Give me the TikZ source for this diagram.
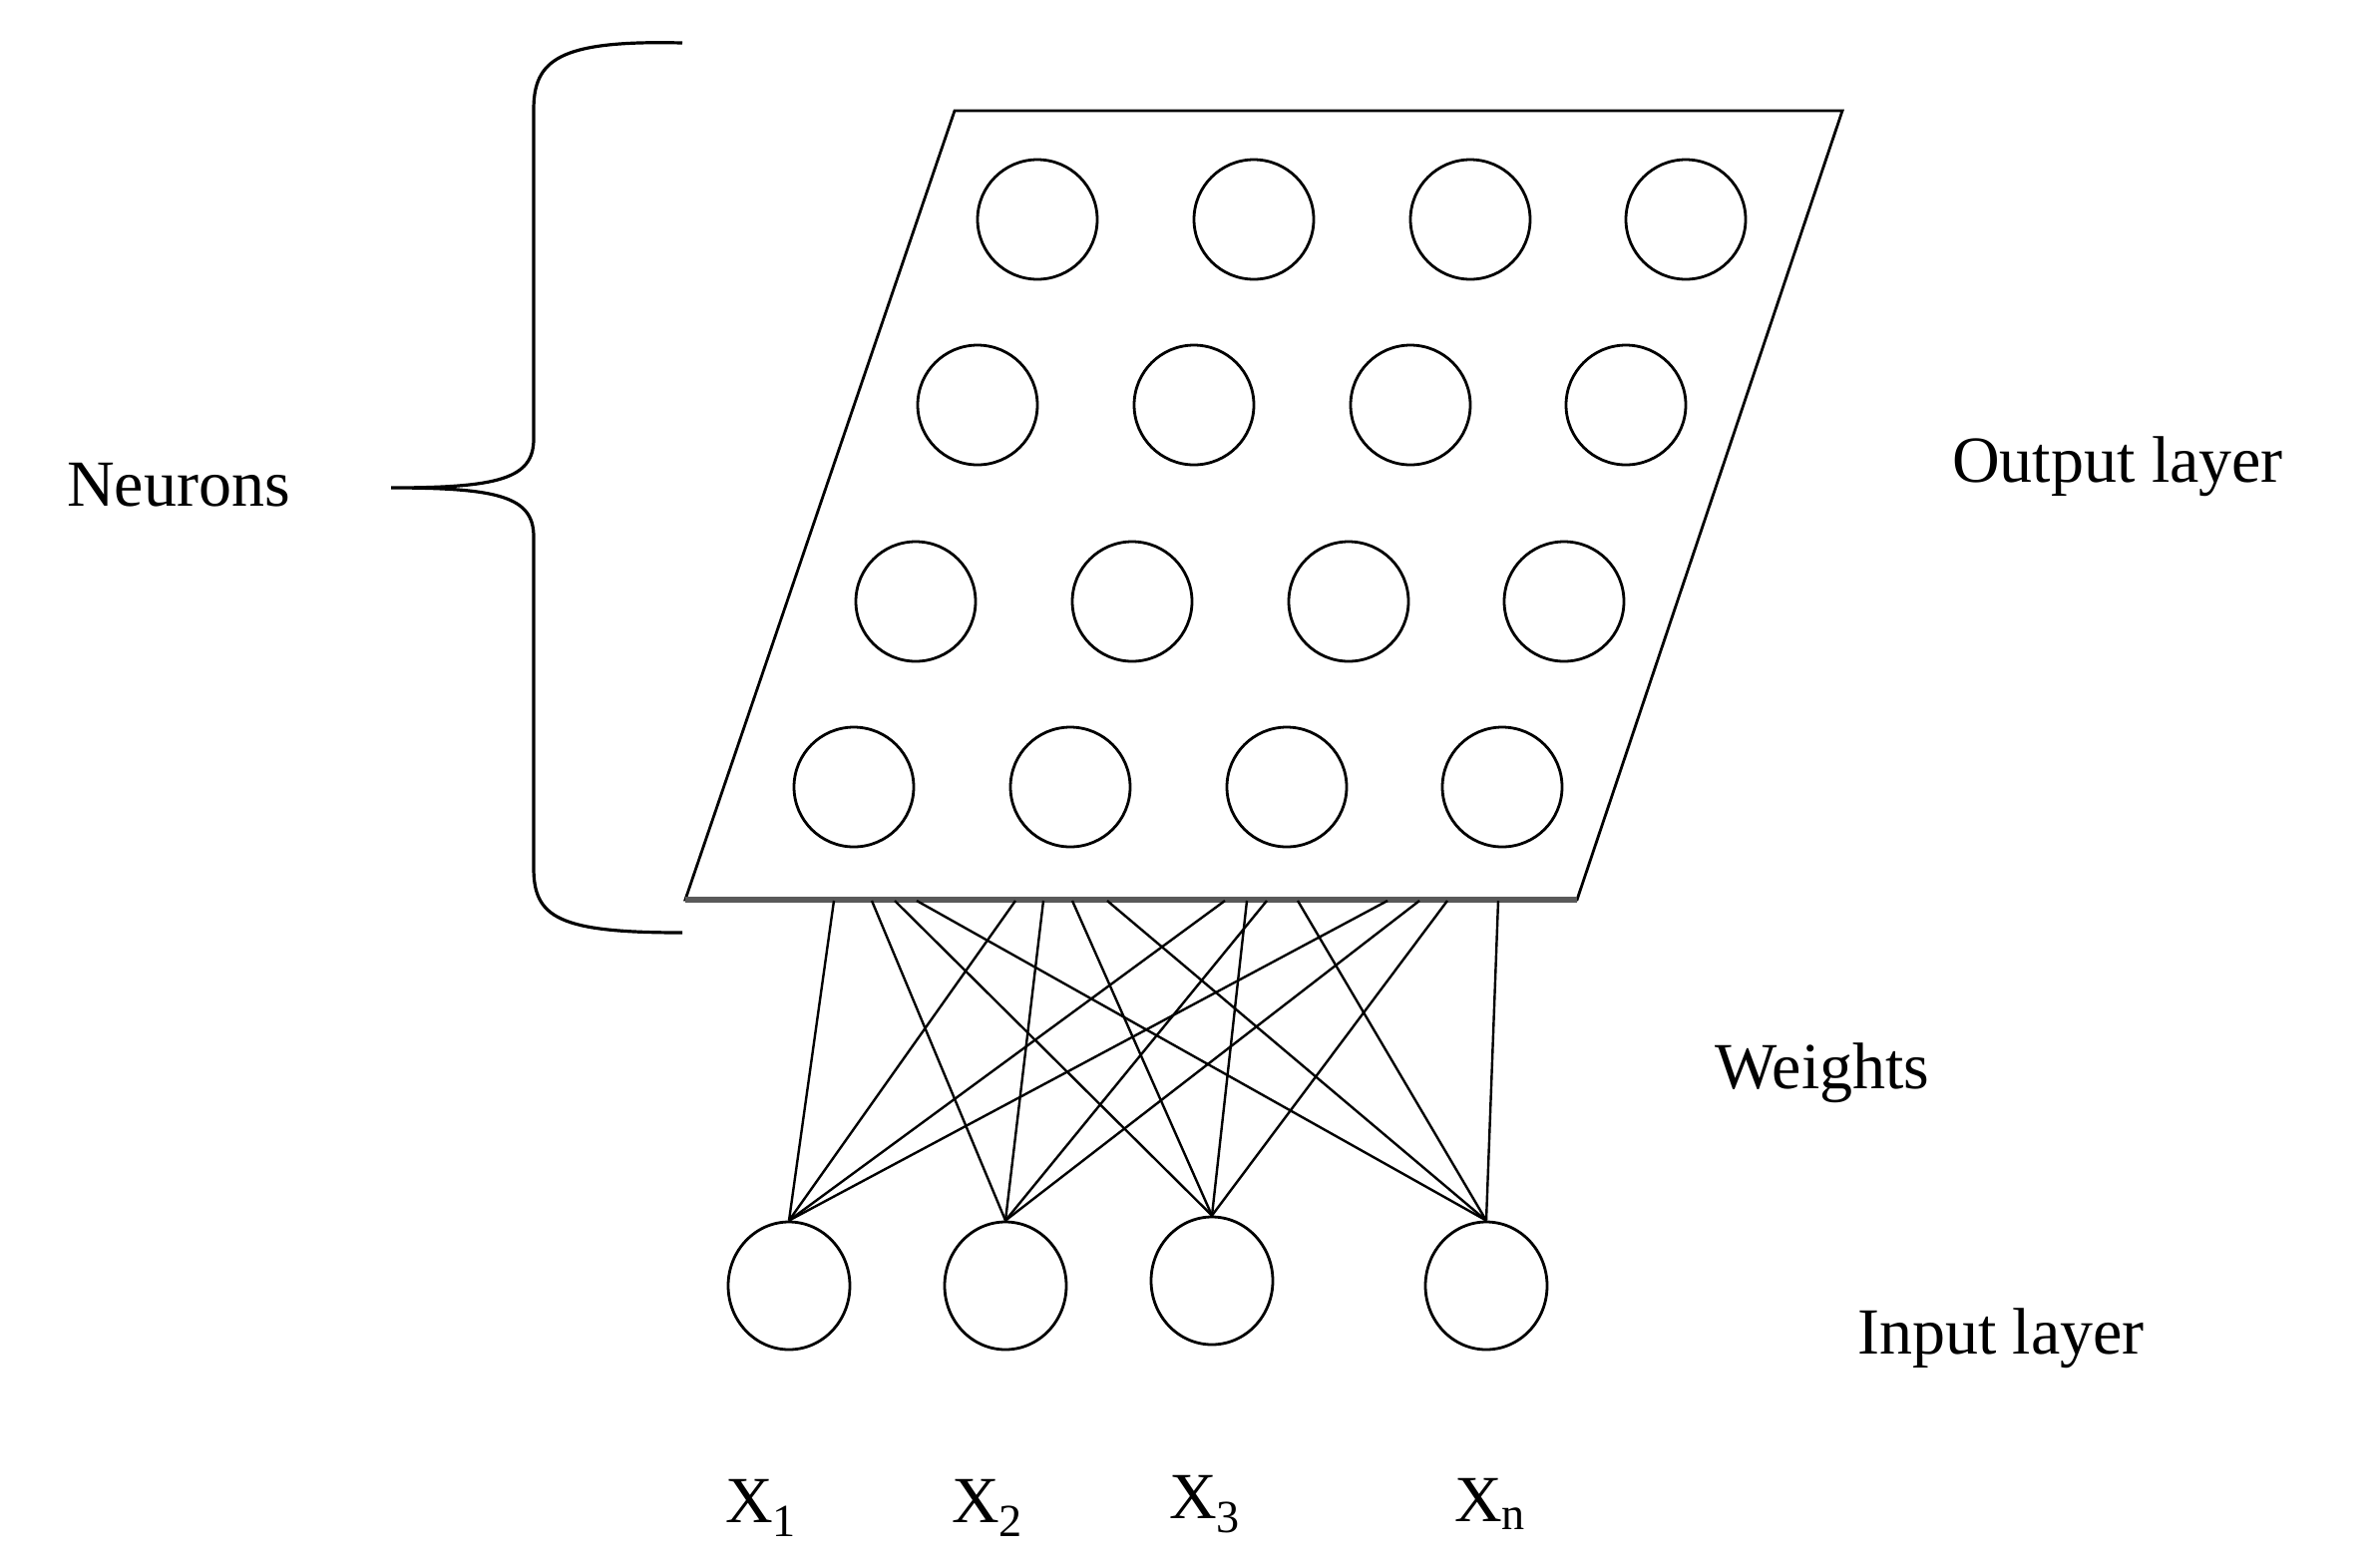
\documentclass[tikz,border=0pt]{standalone}
\usepackage{fontspec}
\setmainfont{Liberation Serif}
\usetikzlibrary{shapes.geometric}
\begin{document}
\begin{tikzpicture}[x=0.5pt,y=-0.5pt,line width=1.4pt,
  neuron/.style={circle,draw,minimum size=60pt,inner sep=0pt},
  innode/.style={ellipse,draw,minimum width=61pt,minimum height=64pt,inner sep=0pt},
  lbl/.style={font=\fontsize{33}{36}\selectfont},
  wline/.style={line width=1.2pt}]
\useasboundingbox (0,0) rectangle (2383,1571);
% layer plane
\draw (957,111) -- (1847,111) -- (1581,902) -- (687,902) -- cycle;
\draw[line width=2.6pt,gray!70!black] (687,902) -- (1581,902);
% output neurons
\foreach \r/\y/\dx in {1/220/0,2/406/-60,3/603/-122,4/789/-184}{
  \foreach \c/\x in {1/1040,2/1257,3/1474,4/1690}{
    \node[neuron] (o\r\c) at (\x+\dx,\y) {};
  }}
% inputs
\node[innode] (i1) at (791,1289) {};
\node[innode] (i2) at (1008,1289) {};
\node[innode] (i3) at (1215,1284) {};
\node[innode] (in) at (1490,1289) {};
% weights
\foreach \x/\t in {836/i1,874/i2,897/i3,919/in,1018/i1,1046/i2,1075/i3,1110/in,1228/i1,1270/i2,1301/in,1391/i1,1423/i2,1451/i3,1502/in,1250/i3}{
  \coordinate (t\x) at (\x,903);
  \draw[wline] (t\x) -- (\t.north);
}
% brace
\coordinate (bt) at (684,43);
\coordinate (bb) at (684,935);
\coordinate (bp) at (392,489);
\draw[line width=1.6pt] (bt) .. controls (560,40) and (535,60) .. (535,110)
  -- (535,440) .. controls (535,480) and (500,489) .. (bp)
  .. controls (500,489) and (535,498) .. (535,538) -- (535,870)
  .. controls (535,920) and (560,935) .. (bb);
% labels
\node[lbl] (neur) at (179,486) {Neurons};
\node[lbl] (outl) at (2123,468) {Output layer};
\node[lbl] (wts) at (1827,1076) {Weights};
\node[lbl] (inl) at (2006,1342) {Input layer};
\node[lbl] (x1) at (763,1512) {X\textsubscript{1}};
\node[lbl] (x2) at (990,1512) {X\textsubscript{2}};
\node[lbl] (x3) at (1208,1508) {X\textsubscript{3}};
\node[lbl] (xn) at (1494,1508) {X\textsubscript{n}};
\end{tikzpicture}
\end{document}
